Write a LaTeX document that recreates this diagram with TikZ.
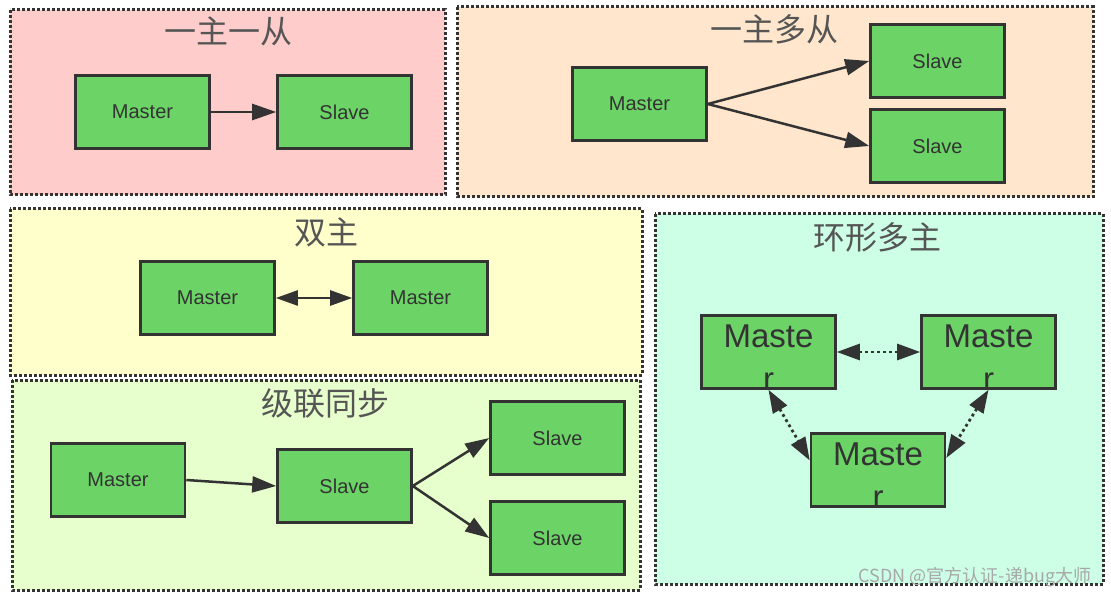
\documentclass[tikz,border=0pt]{standalone}
\usepackage{fontspec}
\setmainfont{Liberation Sans}
\newfontfamily\cjk{Noto Sans CJK SC}
\usetikzlibrary{arrows.meta}
\definecolor{pinkbg}{HTML}{FFCCCC}
\definecolor{peachbg}{HTML}{FFE6CC}
\definecolor{yellowbg}{HTML}{FFFFCC}
\definecolor{mintbg}{HTML}{CCFFE6}
\definecolor{limebg}{HTML}{E6FFCC}
\definecolor{boxgreen}{HTML}{6CD466}
\definecolor{ink}{HTML}{333333}
\definecolor{titleink}{HTML}{555555}
\definecolor{wm}{HTML}{A8A8A8}
\tikzset{
  panel/.style={draw=ink, line width=3pt, dash pattern=on 3pt off 2pt},
  gbox/.style={draw=ink, fill=boxgreen, line width=2.6pt, minimum width=134pt, minimum height=73pt, inner sep=0pt, text=ink, font=\fontsize{20}{22}\selectfont},
  title/.style={text=titleink, font=\cjk\fontsize{32}{34}\selectfont, inner sep=0pt},
  conn/.style={draw=ink, line width=2.5pt, -{Triangle[length=24pt,width=16pt]}},
  biconn/.style={draw=ink, line width=2.5pt, {Triangle[length=22pt,width=15pt]}-{Triangle[length=22pt,width=15pt]}},
  dotconn/.style={draw=ink, line width=2.8pt, dash pattern=on 2.8pt off 3.2pt, {Triangle[length=23pt,width=16pt]}-{Triangle[length=23pt,width=16pt]}},
  ringtxt/.style={text=ink, font=\fontsize{33}{36}\selectfont, inner sep=0pt, anchor=base},
}
\begin{document}
\begin{tikzpicture}[x=1pt,y=-1pt]
\useasboundingbox (0,0) rectangle (1111,596);
% panels
\draw[panel, fill=pinkbg] (10,10) rectangle (445,195);
\draw[panel, fill=peachbg] (457,7) rectangle (1093,197);
\draw[panel, fill=yellowbg] (10,209) rectangle (642,375);
\draw[panel, fill=mintbg] (655,214) rectangle (1103,584);
\draw[panel, fill=limebg] (12,380) rectangle (640,590);
% titles
\node[title] (t1) at (228,31) {一主一从};
\node[title] (t2) at (774,29) {一主多从};
\node[title] (t3) at (326,232) {双主};
\node[title] (t4) at (877,237) {环形多主};
\node[title] (t5) at (325,403) {级联同步};
% panel 1
\node[gbox] (m1) at (142.5,112) {Master};
\node[gbox] (s1) at (344.5,112) {Slave};
\draw[conn] (m1.east) -- (s1.west);
% panel 2
\node[gbox] (m2) at (639.5,104) {Master};
\node[gbox] (s2a) at (937.5,61) {Slave};
\node[gbox] (s2b) at (937.5,146) {Slave};
\draw[conn] (m2.east) -- (s2a.west);
\draw[conn] (m2.east) -- (s2b.west);
% panel 3
\node[gbox] (m3a) at (207.5,298) {Master};
\node[gbox] (m3b) at (420.5,298) {Master};
\draw[biconn] (m3a.east) -- (m3b.west);
% panel 4 ring
\node[gbox] (r1) at (768.5,352) {};
\node[gbox] (r2) at (988.5,352) {};
\node[gbox] (r3) at (878,470) {};
\node[ringtxt] (r1a) at (768.5,347) {Maste};
\node[ringtxt] (r1b) at (768.5,390) {r};
\node[ringtxt] (r2a) at (988.5,347) {Maste};
\node[ringtxt] (r2b) at (988.5,390) {r};
\node[ringtxt] (r3a) at (878,465) {Maste};
\node[ringtxt] (r3b) at (878,508) {r};
\draw[dotconn] (r1.east) -- (r2.west);
\draw[dotconn] (r1.south) -- (r3.172);
\draw[dotconn] (r2.south) -- (r3.10);
% panel 5
\node[gbox] (m5) at (118,480) {Master};
\node[gbox] (s5) at (344.5,486) {Slave};
\node[gbox] (s5a) at (557.5,438) {Slave};
\node[gbox] (s5b) at (557.5,538) {Slave};
\draw[conn] (m5.east) -- (s5.west);
\draw[conn] (s5.east) -- (s5a.west);
\draw[conn] (s5.east) -- (s5b.west);
% watermark
\node[text=wm, font=\cjk\fontsize{18}{20}\selectfont, inner sep=0pt] (wmk) at (975,577) {CSDN @官方认证-递bug大师};
\end{tikzpicture}
\end{document}
